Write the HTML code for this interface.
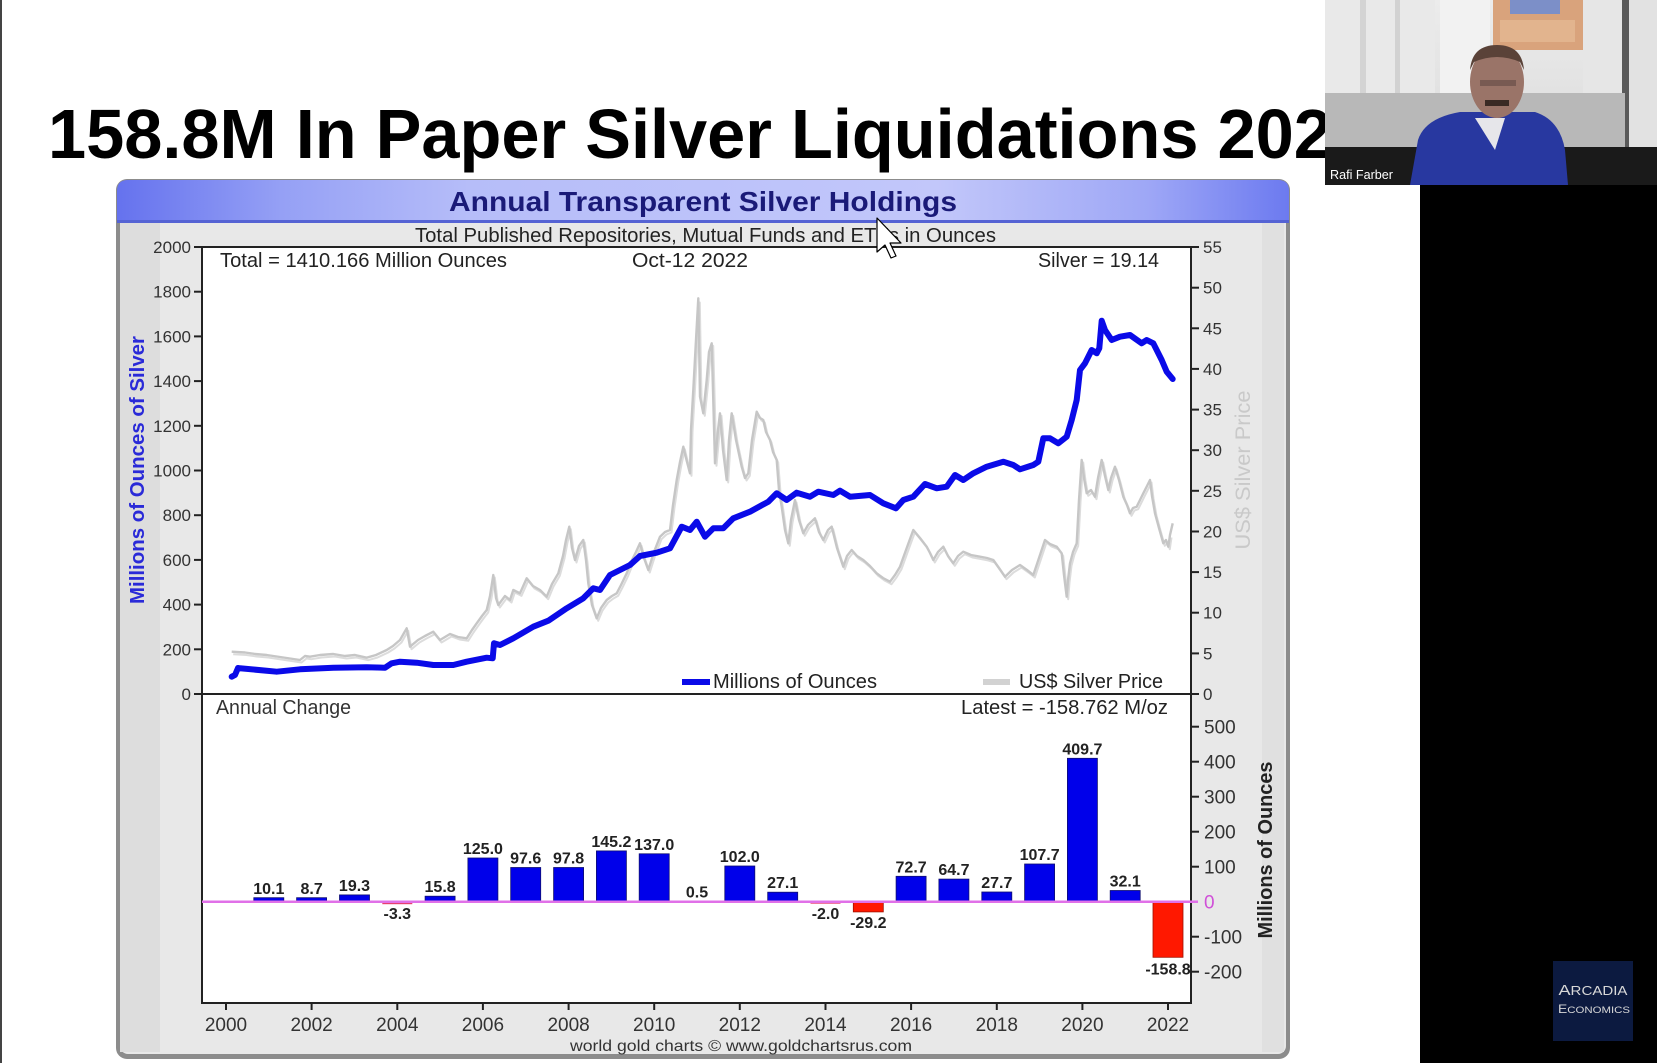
<!DOCTYPE html>
<html>
<head>
<meta charset="utf-8">
<style>
  html,body{margin:0;padding:0;background:#fff;}
  body{width:1657px;height:1063px;overflow:hidden;position:relative;}
  svg{position:absolute;left:0;top:0;}
  text{font-family:"Liberation Sans",Arial,sans-serif;}
</style>
</head>
<body>
<svg width="1657" height="1063" viewBox="0 0 1657 1063" xmlns="http://www.w3.org/2000/svg">
  <defs>
    <linearGradient id="hdr" x1="0" y1="0" x2="1" y2="0">
      <stop offset="0" stop-color="#6572ee"/>
      <stop offset="0.14" stop-color="#95a0f5"/>
      <stop offset="0.3" stop-color="#b6bdf9"/>
      <stop offset="0.7" stop-color="#c2c7fa"/>
      <stop offset="0.88" stop-color="#9ea7f6"/>
      <stop offset="1" stop-color="#6c7af0"/>
    </linearGradient>
    <linearGradient id="wall" x1="0" y1="0" x2="0" y2="1">
      <stop offset="0" stop-color="#ececec"/>
      <stop offset="1" stop-color="#d8d8d8"/>
    </linearGradient>
  </defs>

  <!-- left edge line -->
  <rect x="0" y="0" width="2" height="1063" fill="#444"/>

  <!-- Slide title -->
  <text x="48" y="158" font-size="70" font-weight="bold" fill="#000" textLength="1322" lengthAdjust="spacingAndGlyphs">158.8M In Paper Silver Liquidations 2022</text>

  <!-- Chart panel -->
  <rect x="116" y="179" width="1174" height="880" rx="11" fill="#8c8c8c"/>
  <rect x="120" y="182" width="1166" height="872" rx="8" fill="#e8e8e8"/>
  <rect x="120" y="222" width="40" height="830" fill="#dddddd"/>
  <rect x="1262" y="222" width="22" height="830" fill="#e0e0e0"/>

  <!-- Header bar -->
  <path d="M117,222 L117,191 Q117,180 128,180 L1278,180 Q1289,180 1289,191 L1289,222 Z" fill="url(#hdr)"/>
  <rect x="117" y="220" width="1172" height="3" fill="#5563d4"/>
  <text x="703" y="211" font-size="28" font-weight="bold" fill="#1a1a78" text-anchor="middle" textLength="508" lengthAdjust="spacingAndGlyphs">Annual Transparent Silver Holdings</text>

  <!-- Subtitle -->
  <text x="415" y="242" font-size="20" fill="#222" textLength="581" lengthAdjust="spacingAndGlyphs">Total Published Repositories, Mutual Funds and ETFs in Ounces</text>

  <!-- Plot area -->
  <rect x="202" y="247" width="989" height="756" fill="#fff" stroke="#222" stroke-width="2"/>
  <line x1="194" y1="694" x2="1199" y2="694" stroke="#222" stroke-width="2"/>

  <!-- Left axis ticks (0-2000) -->
  <g stroke="#222" stroke-width="2">
    <line x1="194" y1="694" x2="202" y2="694"/>
    <line x1="194" y1="649.3" x2="202" y2="649.3"/>
    <line x1="194" y1="604.6" x2="202" y2="604.6"/>
    <line x1="194" y1="559.9" x2="202" y2="559.9"/>
    <line x1="194" y1="515.2" x2="202" y2="515.2"/>
    <line x1="194" y1="470.5" x2="202" y2="470.5"/>
    <line x1="194" y1="425.8" x2="202" y2="425.8"/>
    <line x1="194" y1="381.1" x2="202" y2="381.1"/>
    <line x1="194" y1="336.4" x2="202" y2="336.4"/>
    <line x1="194" y1="291.7" x2="202" y2="291.7"/>
    <line x1="194" y1="247" x2="202" y2="247"/>
  </g>
  <g font-size="17" fill="#333" text-anchor="end">
    <text x="191" y="700">0</text>
    <text x="191" y="655.3">200</text>
    <text x="191" y="610.6">400</text>
    <text x="191" y="565.9">600</text>
    <text x="191" y="521.2">800</text>
    <text x="191" y="476.5">1000</text>
    <text x="191" y="431.8">1200</text>
    <text x="191" y="387.1">1400</text>
    <text x="191" y="342.4">1600</text>
    <text x="191" y="297.7">1800</text>
    <text x="191" y="253">2000</text>
  </g>

  <!-- Right axis ticks (0-55) -->
  <g stroke="#222" stroke-width="2">
    <line x1="1191" y1="694" x2="1199" y2="694"/>
    <line x1="1191" y1="653.4" x2="1199" y2="653.4"/>
    <line x1="1191" y1="612.7" x2="1199" y2="612.7"/>
    <line x1="1191" y1="572.1" x2="1199" y2="572.1"/>
    <line x1="1191" y1="531.5" x2="1199" y2="531.5"/>
    <line x1="1191" y1="490.8" x2="1199" y2="490.8"/>
    <line x1="1191" y1="450.2" x2="1199" y2="450.2"/>
    <line x1="1191" y1="409.6" x2="1199" y2="409.6"/>
    <line x1="1191" y1="368.9" x2="1199" y2="368.9"/>
    <line x1="1191" y1="328.3" x2="1199" y2="328.3"/>
    <line x1="1191" y1="287.7" x2="1199" y2="287.7"/>
    <line x1="1191" y1="247" x2="1199" y2="247"/>
  </g>
  <g font-size="17" fill="#333">
    <text x="1203" y="700">0</text>
    <text x="1203" y="659.4">5</text>
    <text x="1203" y="618.7">10</text>
    <text x="1203" y="578.1">15</text>
    <text x="1203" y="537.5">20</text>
    <text x="1203" y="496.8">25</text>
    <text x="1203" y="456.2">30</text>
    <text x="1203" y="415.6">35</text>
    <text x="1203" y="374.9">40</text>
    <text x="1203" y="334.3">45</text>
    <text x="1203" y="293.7">50</text>
    <text x="1203" y="253">55</text>
  </g>

  <!-- Axis titles -->
  <text transform="translate(144,470) rotate(-90)" font-size="20" font-weight="bold" fill="#2a2ad8" text-anchor="middle" textLength="268" lengthAdjust="spacingAndGlyphs">Millions of Ounces of Silver</text>
  <text transform="translate(1250,470) rotate(-90)" font-size="21" fill="#c9c9c9" text-anchor="middle" textLength="159" lengthAdjust="spacingAndGlyphs">US$ Silver Price</text>
  <text transform="translate(1272,850) rotate(-90)" font-size="20" font-weight="bold" fill="#222" text-anchor="middle" textLength="177" lengthAdjust="spacingAndGlyphs">Millions of Ounces</text>

  <!-- Top annotations -->
  <text x="220" y="267" font-size="20" fill="#222" textLength="287" lengthAdjust="spacingAndGlyphs">Total = 1410.166 Million Ounces</text>
  <text x="632" y="267" font-size="20" fill="#222" textLength="116" lengthAdjust="spacingAndGlyphs">Oct-12  2022</text>
  <text x="1038" y="267" font-size="20" fill="#222" textLength="121" lengthAdjust="spacingAndGlyphs">Silver = 19.14</text>

  <!-- Silver price line (gray) -->
  <g fill="none" stroke-linejoin="round">
  <polyline stroke="#dcdcdc" stroke-width="2" transform="translate(1.5,2.5)" points="231.7,651.7 245,652.5 255,654 266.7,655 280,657 290,658.5 300,660 305,656 310,656.7 320,655 333.3,654 345,656 355,655 366.7,657.7 376,655 386.7,650 393,646 400,640 404,633 406.7,628.3 410,646.7 418,640 425,636 433.3,631.7 440,640 450,634 458,637 466.7,638.3 472,630 476.7,623.3 482,616 486.7,610 490,596 493.3,575 496,598 498.3,605 505,596 510,600 513.3,590 520,593.3 526.7,578.3 533,586 540,590 546.7,596.7 552,584 558.3,573.3 563,556 566,540 569.3,526.7 572,548 575,560 579,546 583.3,540 586,560 588.3,583.3 592,605 596.7,618.3 601,608 606.7,600 612,596 616.7,593.3 621,585 626.7,573.3 632,560 636,552 640,543.3 644,558 648.3,570 654,552 660,536.7 665,532 670,530 673,505 676.7,480 680,462 683.3,446.7 686,458 690,473.3 691,430 693.3,390 696,340 698.3,300 700,396.7 703.3,413.3 706.7,380 709,352 711.7,343.3 713,390 715,463.3 718,430 720,413.3 723,450 726.7,480 729,440 731.7,413.3 736,440 741.7,466.7 745,478 748.3,473.3 752,440 756.7,411.7 760,418 763.3,420 766,432 770,440 773,452 776.7,460 779,490 781.7,506.7 785,530 788.3,543.3 791,520 795,500 799,520 803.3,533.3 808,525 815,518.3 819,532 823.3,540 828,530 831.7,526.7 837,548 843.3,566.7 847,556 851.7,550 857,556 863.3,560 870,566 876.7,573.3 883,578 890,581.7 895,575 900,566.7 906,550 913.3,530 920,538 926.7,546.7 930,553 933.3,560 938,552 943.3,546.7 948,556 953.3,563.3 958,556 963.3,551.7 971,555 980,556.7 987,558 993.3,560 999,568 1005,576.7 1012,570 1020,565 1027,570 1033.3,575 1039,558 1045,540 1050,544 1056.7,546.7 1061.7,553.3 1064,575 1066.7,596.7 1068,580 1070,563.3 1073,552 1076.7,543.3 1079,500 1081.7,460 1084,478 1086.7,493.3 1091,490 1095,496.7 1098,478 1101.7,460 1105,476 1108.3,490 1111,478 1115,466.7 1119,480 1123.3,496.7 1127,505 1130,513.3 1133,508 1136.7,506.7 1140,500 1143.3,493.3 1147,486 1150,480 1152,496 1155,513.3 1159,528 1163.3,543.3 1166,540 1168.3,546.7 1170,535"/>
  <polyline stroke="#c6c6c6" stroke-width="2.4" points="231.7,651.7 245,652.5 255,654 266.7,655 280,657 290,658.5 300,660 305,656 310,656.7 320,655 333.3,654 345,656 355,655 366.7,657.7 376,655 386.7,650 393,646 400,640 404,633 406.7,628.3 410,646.7 418,640 425,636 433.3,631.7 440,640 450,634 458,637 466.7,638.3 472,630 476.7,623.3 482,616 486.7,610 490,596 493.3,575 496,598 498.3,605 505,596 510,600 513.3,590 520,593.3 526.7,578.3 533,586 540,590 546.7,596.7 552,584 558.3,573.3 563,556 566,540 569.3,526.7 572,548 575,560 579,546 583.3,540 586,560 588.3,583.3 592,605 596.7,618.3 601,608 606.7,600 612,596 616.7,593.3 621,585 626.7,573.3 632,560 636,552 640,543.3 644,558 648.3,570 654,552 660,536.7 665,532 670,530 673,505 676.7,480 680,462 683.3,446.7 686,458 690,473.3 691,430 693.3,390 696,340 698.3,298.3 700,396.7 703.3,413.3 706.7,380 709,352 711.7,343.3 713,390 715,463.3 718,430 720,413.3 723,450 726.7,480 729,440 731.7,413.3 736,440 741.7,466.7 745,478 748.3,473.3 752,440 756.7,411.7 760,418 763.3,420 766,432 770,440 773,452 776.7,460 779,490 781.7,506.7 785,530 788.3,543.3 791,520 795,500 799,520 803.3,533.3 808,525 815,518.3 819,532 823.3,540 828,530 831.7,526.7 837,548 843.3,566.7 847,556 851.7,550 857,556 863.3,560 870,566 876.7,573.3 883,578 890,581.7 895,575 900,566.7 906,550 913.3,530 920,538 926.7,546.7 930,553 933.3,560 938,552 943.3,546.7 948,556 953.3,563.3 958,556 963.3,551.7 971,555 980,556.7 987,558 993.3,560 999,568 1005,576.7 1012,570 1020,565 1027,570 1033.3,575 1039,558 1045,540 1050,544 1056.7,546.7 1061.7,553.3 1064,575 1066.7,596.7 1068,580 1070,563.3 1073,552 1076.7,543.3 1079,500 1081.7,460 1084,478 1086.7,493.3 1091,490 1095,496.7 1098,478 1101.7,460 1105,476 1108.3,490 1111,478 1115,466.7 1119,480 1123.3,496.7 1127,505 1130,513.3 1133,508 1136.7,506.7 1140,500 1143.3,493.3 1147,486 1150,480 1152,496 1155,513.3 1159,528 1163.3,543.3 1166,540 1168.3,546.7 1170,535 1172.7,523.3"/>
  </g>

  <!-- Holdings line (blue) -->
  <polyline fill="none" stroke="#0a0ae8" stroke-width="6" stroke-linejoin="round" stroke-linecap="round" points="231.7,676.7 235,675 238,668 240,668.3 266.7,670.7 276.7,671.7 300,669.3 333.3,667.7 366.7,667.3 385,667.7 391.7,663.3 400,661.7 416.7,662.7 433.3,665 453.3,665 466.7,661.7 486.7,657.7 492.7,658.3 494,643.3 500,645 513.3,638.3 533.3,626.7 548.3,620.7 566.7,608.3 583.3,598.3 593.3,588.3 600,590 610,575 630,565 640,556 656.7,552.7 670,548.3 681.7,526.7 690,530 696.7,521.7 705,536.7 713.3,528.3 723.3,528.3 733.3,518.3 750,511.7 768.3,501.7 776.7,493.3 786.7,500 796.7,492.7 810,496.7 818.3,491.7 833.3,495 840,490.7 850,496.7 870,495 883.3,503.3 896,508.3 903.3,500 913.3,496.7 925,484 936.7,488.3 946.7,486.7 955,475 963.3,480 973.3,473.3 986.7,466.7 1003.3,461.7 1013.3,465 1020,469.3 1033.3,465 1038.3,461.7 1043.3,438.3 1050,438.3 1058.3,443.3 1066.7,436.7 1071.7,420 1076.7,400 1080,370 1085,363.3 1091.7,350 1096.7,353.3 1099.3,348.3 1101.7,320.7 1105,330 1111.7,340 1120,336.7 1130,335 1141.7,343.3 1146.7,340 1153.3,343.3 1161.7,360 1166.7,371.7 1172.7,379"/>

  <!-- Legend -->
  <line x1="682" y1="682" x2="710" y2="682" stroke="#0a0ae8" stroke-width="6"/>
  <text x="713" y="688" font-size="20" fill="#222" textLength="164" lengthAdjust="spacingAndGlyphs">Millions of Ounces</text>
  <line x1="983" y1="682" x2="1010" y2="682" stroke="#d2d2d2" stroke-width="6"/>
  <text x="1019" y="688" font-size="20" fill="#222" textLength="144" lengthAdjust="spacingAndGlyphs">US$ Silver Price</text>

  <!-- Lower pane labels -->
  <text x="216" y="714" font-size="20" fill="#333" textLength="135" lengthAdjust="spacingAndGlyphs">Annual Change</text>
  <text x="961" y="714" font-size="20" fill="#222" textLength="207" lengthAdjust="spacingAndGlyphs">Latest = -158.762 M/oz</text>

  <!-- Lower right axis -->
  <g stroke="#222" stroke-width="2">
    <line x1="1191" y1="726.7" x2="1199" y2="726.7"/>
    <line x1="1191" y1="761.7" x2="1199" y2="761.7"/>
    <line x1="1191" y1="796.7" x2="1199" y2="796.7"/>
    <line x1="1191" y1="831.7" x2="1199" y2="831.7"/>
    <line x1="1191" y1="866.7" x2="1199" y2="866.7"/>
    <line x1="1191" y1="936.7" x2="1199" y2="936.7"/>
    <line x1="1191" y1="971.7" x2="1199" y2="971.7"/>
  </g>
  <g font-size="19" fill="#333">
    <text x="1204" y="733.5">500</text>
    <text x="1204" y="768.5">400</text>
    <text x="1204" y="803.5">300</text>
    <text x="1204" y="838.5">200</text>
    <text x="1204" y="873.5">100</text>
    <text x="1204" y="908.5" fill="#d050d8">0</text>
    <text x="1204" y="943.5">-100</text>
    <text x="1204" y="978.5">-200</text>
  </g>

  <!-- Bars -->
  <g fill="#0000ea" stroke="#101070" stroke-width="0.8">
    <rect x="253.8" y="897.7" width="30" height="4"/>
    <rect x="296.6" y="897.7" width="30" height="4"/>
    <rect x="339.5" y="894.9" width="30" height="6.8"/>
    <rect x="425.1" y="896.2" width="30" height="5.5"/>
    <rect x="467.9" y="858" width="30" height="43.7"/>
    <rect x="510.7" y="867.5" width="30" height="34.2"/>
    <rect x="553.6" y="867.5" width="30" height="34.2"/>
    <rect x="596.4" y="850.9" width="30" height="50.8"/>
    <rect x="639.2" y="853.8" width="30" height="47.9"/>
    <rect x="724.8" y="866" width="30" height="35.7"/>
    <rect x="767.7" y="892.2" width="30" height="9.5"/>
    <rect x="896.1" y="876.3" width="30" height="25.4"/>
    <rect x="938.9" y="879.1" width="30" height="22.6"/>
    <rect x="981.8" y="892" width="30" height="9.7"/>
    <rect x="1024.6" y="864" width="30" height="37.7"/>
    <rect x="1067.4" y="758.3" width="30" height="143.4"/>
    <rect x="1110.2" y="890.5" width="30" height="11.2"/>
  </g>
  <g fill="#ff1800" stroke="#a01000" stroke-width="0.8">
    <rect x="382.3" y="901.7" width="30" height="2.5" fill="#e84070" stroke="none"/>
    <rect x="810.5" y="901.7" width="30" height="2" fill="#e84070" stroke="none"/>
    <rect x="853.3" y="901.7" width="30" height="10.2"/>
    <rect x="1153" y="901.7" width="30" height="55.6"/>
  </g>
  <line x1="202" y1="901.7" x2="1198" y2="901.7" stroke="#e070e8" stroke-width="2.5"/>

  <!-- Bar labels -->
  <g font-size="16" font-weight="bold" fill="#222" text-anchor="middle">
    <text x="268.8" y="894">10.1</text>
    <text x="311.6" y="894">8.7</text>
    <text x="354.5" y="891">19.3</text>
    <text x="397.3" y="919">-3.3</text>
    <text x="440.1" y="892.2">15.8</text>
    <text x="482.9" y="854">125.0</text>
    <text x="525.7" y="863.5">97.6</text>
    <text x="568.6" y="863.5">97.8</text>
    <text x="611.4" y="846.9">145.2</text>
    <text x="654.2" y="849.8">137.0</text>
    <text x="697" y="897.5">0.5</text>
    <text x="739.8" y="862">102.0</text>
    <text x="782.7" y="888.2">27.1</text>
    <text x="825.5" y="919">-2.0</text>
    <text x="868.3" y="928">-29.2</text>
    <text x="911.1" y="872.3">72.7</text>
    <text x="953.9" y="875.1">64.7</text>
    <text x="996.8" y="888">27.7</text>
    <text x="1039.6" y="860">107.7</text>
    <text x="1082.4" y="754.3">409.7</text>
    <text x="1125.2" y="886.5">32.1</text>
    <text x="1168" y="974.5">-158.8</text>
  </g>

  <!-- X axis ticks -->
  <g stroke="#222" stroke-width="2">
    <line x1="226" y1="1003" x2="226" y2="1010"/>
    <line x1="311.6" y1="1003" x2="311.6" y2="1010"/>
    <line x1="397.3" y1="1003" x2="397.3" y2="1010"/>
    <line x1="482.9" y1="1003" x2="482.9" y2="1010"/>
    <line x1="568.6" y1="1003" x2="568.6" y2="1010"/>
    <line x1="654.2" y1="1003" x2="654.2" y2="1010"/>
    <line x1="739.8" y1="1003" x2="739.8" y2="1010"/>
    <line x1="825.5" y1="1003" x2="825.5" y2="1010"/>
    <line x1="911.1" y1="1003" x2="911.1" y2="1010"/>
    <line x1="996.8" y1="1003" x2="996.8" y2="1010"/>
    <line x1="1082.4" y1="1003" x2="1082.4" y2="1010"/>
    <line x1="1168" y1="1003" x2="1168" y2="1010"/>
  </g>
  <g font-size="19" fill="#333" text-anchor="middle">
    <text x="226" y="1031">2000</text>
    <text x="311.6" y="1031">2002</text>
    <text x="397.3" y="1031">2004</text>
    <text x="482.9" y="1031">2006</text>
    <text x="568.6" y="1031">2008</text>
    <text x="654.2" y="1031">2010</text>
    <text x="739.8" y="1031">2012</text>
    <text x="825.5" y="1031">2014</text>
    <text x="911.1" y="1031">2016</text>
    <text x="996.8" y="1031">2018</text>
    <text x="1082.4" y="1031">2020</text>
    <text x="1168" y="1031">2022</text>
  </g>

  <!-- Footer -->
  <text x="570" y="1051" font-size="16" fill="#333" textLength="342" lengthAdjust="spacingAndGlyphs">world gold charts © www.goldchartsrus.com</text>

  <!-- Mouse cursor -->
  <polygon points="877,218 877,252 885,245 891,258 896,256 890,243 901,243" fill="#fff" stroke="#000" stroke-width="1.2" stroke-linejoin="round"/>

  <!-- Black side region -->
  <rect x="1420" y="185" width="237" height="878" fill="#000"/>

  <!-- Webcam -->
  <rect x="1325" y="0" width="332" height="185" fill="url(#wall)"/>
  <rect x="1325" y="0" width="110" height="95" fill="#e9e9e9"/>
  <rect x="1360" y="0" width="6" height="95" fill="#d4d4d4"/>
  <rect x="1395" y="0" width="5" height="95" fill="#d2d2d2"/>
  <rect x="1440" y="0" width="50" height="95" fill="#f2f2f2"/>
  <rect x="1493" y="0" width="90" height="50" fill="#d9a37c"/>
  <rect x="1510" y="0" width="50" height="14" fill="#7c8fc8"/>
  <rect x="1500" y="20" width="75" height="22" fill="#e2b48e"/>
  <rect x="1583" y="0" width="45" height="120" fill="#e6e6e6"/>
  <rect x="1622" y="0" width="7" height="160" fill="#5a5a5a"/>
  <rect x="1629" y="0" width="28" height="160" fill="#e2e2e2"/>
  <rect x="1325" y="93" width="300" height="55" fill="#b8b8b8"/>
  <rect x="1325" y="147" width="332" height="38" fill="#1a1a1a"/>
  <!-- person -->
  <path d="M1410,185 L1418,140 Q1425,118 1460,112 L1535,112 Q1560,120 1565,150 L1568,185 Z" fill="#2838a0"/>
  <path d="M1475,118 L1505,118 L1495,150 Z" fill="#e6e6ea"/>
  <ellipse cx="1497" cy="82" rx="27" ry="36" fill="#9a7468"/>
  <path d="M1470,70 Q1472,45 1497,45 Q1522,45 1524,70 L1520,62 Q1497,52 1474,62 Z" fill="#5a4238"/>
  <rect x="1480" y="80" width="36" height="6" fill="#6a5048" opacity="0.7"/>
  <rect x="1485" y="100" width="24" height="6" fill="#3a2a24"/>
  <text x="1330" y="179" font-size="13" fill="#fff" textLength="63" lengthAdjust="spacingAndGlyphs">Rafi Farber</text>

  <!-- Arcadia logo -->
  <rect x="1553" y="961" width="80" height="80" fill="#0c1a40"/>
  <text x="1593" y="995" font-family="'Liberation Serif',serif" font-size="15" fill="#d8d8d8" text-anchor="middle" textLength="69" lengthAdjust="spacingAndGlyphs">A<tspan font-size="12.5">RCADIA</tspan></text>
  <text x="1594" y="1013" font-family="'Liberation Serif',serif" font-size="11.5" fill="#d8d8d8" text-anchor="middle" textLength="72" lengthAdjust="spacingAndGlyphs">E<tspan font-size="9.5">CONOMICS</tspan></text>
</svg>
</body>
</html>
